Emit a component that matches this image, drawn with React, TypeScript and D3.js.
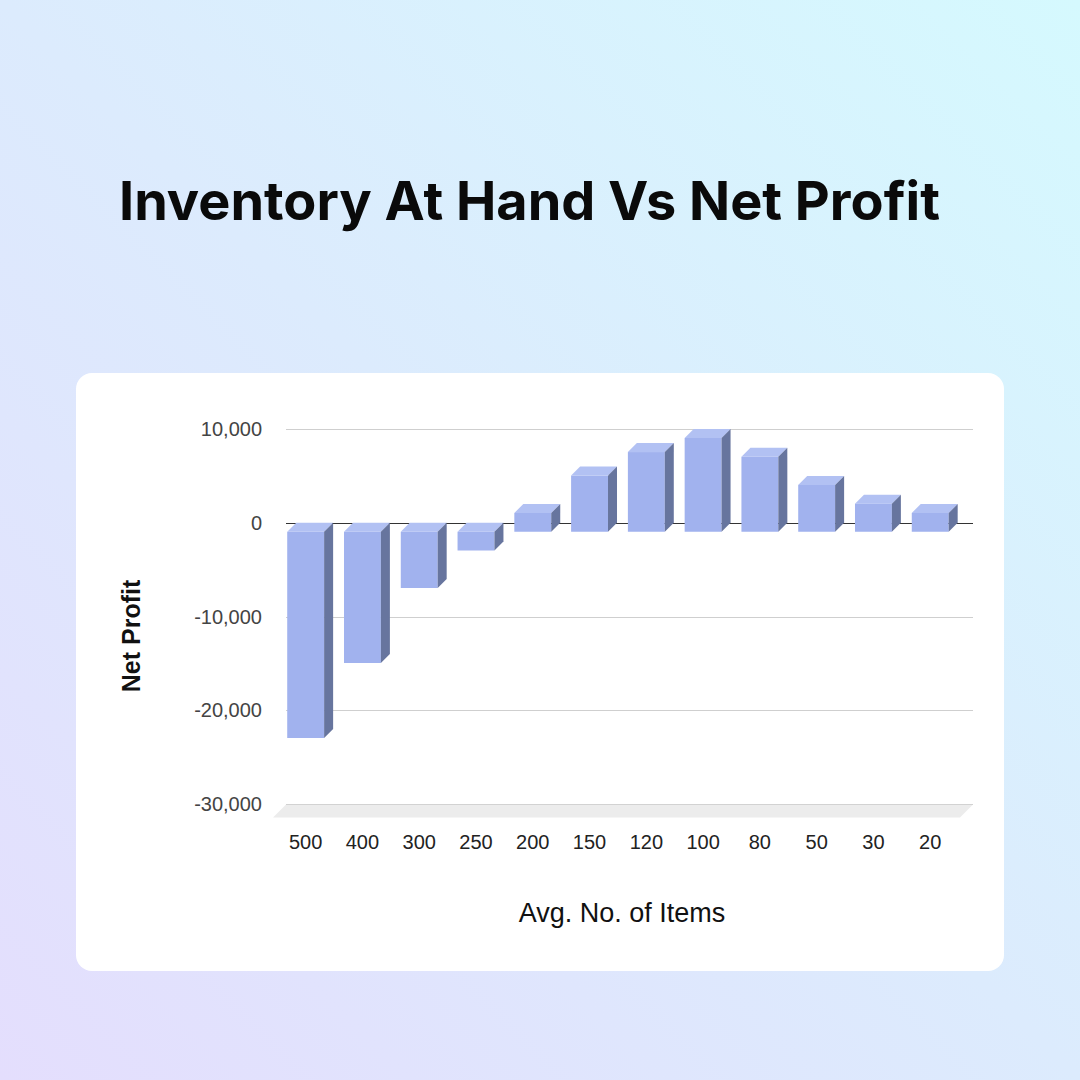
import { useEffect, useRef } from "react"
import * as d3 from "d3"

// dados
const categories = ["500", "400", "300", "250", "200", "150", "120", "100", "80", "50", "30", "20"]
const netProfit = [-22000, -14000, -6000, -2000, 2000, 6000, 8500, 10000, 8000, 5000, 3000, 2000]
const yTicks = [10000, 0, -10000, -20000, -30000]

const W = 1080
const H = 1080

export default function App() {
  const svgRef = useRef<SVGSVGElement>(null)

  useEffect(() => {
    if (!svgRef.current) return
    document.body.style.margin = "0"

    const root = d3.select(svgRef.current)
    root.selectAll("*").remove()
    root.attr("width", W).attr("height", H)

    // fundo em gradiente
    const defs = root.append("defs")
    const grad = defs
      .append("linearGradient")
      .attr("id", "bg")
      .attr("x1", "0%")
      .attr("y1", "100%")
      .attr("x2", "100%")
      .attr("y2", "0%")
    grad.append("stop").attr("offset", "0%").attr("stop-color", "#e4defd")
    grad.append("stop").attr("offset", "50%").attr("stop-color", "#dcebfd")
    grad.append("stop").attr("offset", "100%").attr("stop-color", "#d5f9fe")
    root.append("rect").attr("width", W).attr("height", H).attr("fill", "url(#bg)")

    // título
    root
      .append("text")
      .attr("x", 119)
      .attr("y", 220)
      .attr("font-family", "Inter, 'Noto Sans', sans-serif")
      .attr("font-weight", 700)
      .attr("font-size", 54)
      .attr("fill", "#0a0a0a")
      .text("Inventory At Hand Vs Net Profit")

    // cartão branco
    root
      .append("rect")
      .attr("x", 76)
      .attr("y", 373)
      .attr("width", 928)
      .attr("height", 598)
      .attr("rx", 16)
      .attr("fill", "#ffffff")

    // plano do fundo (parede de trás) e profundidade 3D
    const left = 286
    const right = 973
    const depth = 9
    const floorDepth = 13

    const y = d3.scaleLinear().domain([-30000, 10000]).range([804, 429])
    const x = d3
      .scaleBand()
      .domain(categories)
      .range([left - depth, right - depth])
      .paddingInner(0.35)
      .paddingOuter(0.225)
      .align(0.4)

    const g = root.append("g")
    const font = "'Liberation Sans', Arial, sans-serif"
    const fmt = (v: number) => d3.format(",")(v).replace("\u2212", "-")

    // linhas de grade
    g.selectAll(".grid")
      .data(yTicks.filter((t) => t !== 0))
      .enter()
      .append("line")
      .attr("x1", left)
      .attr("x2", right)
      .attr("y1", (d) => Math.round(y(d)) + 0.5)
      .attr("y2", (d) => Math.round(y(d)) + 0.5)
      .attr("stroke", "#cfcfcf")
      .attr("stroke-width", 1)

    // piso
    const yFloor = Math.round(y(-30000)) + 0.5
    g.append("polygon")
      .attr(
        "points",
        [
          [left, yFloor],
          [right, yFloor],
          [right - floorDepth, yFloor + floorDepth],
          [left - floorDepth, yFloor + floorDepth],
        ]
          .map((p) => p.join(","))
          .join(" "),
      )
      .attr("fill", "#ececec")
    g.append("line")
      .attr("x1", left)
      .attr("x2", right)
      .attr("y1", yFloor)
      .attr("y2", yFloor)
      .attr("stroke", "#d2d2d2")

    // linha do zero
    g.append("line")
      .attr("x1", left)
      .attr("x2", right)
      .attr("y1", Math.round(y(0)) + 0.5)
      .attr("y2", Math.round(y(0)) + 0.5)
      .attr("stroke", "#333333")
      .attr("stroke-width", 1.2)

    // rótulos do eixo Y
    g.selectAll(".ylab")
      .data(yTicks)
      .enter()
      .append("text")
      .attr("x", 262)
      .attr("y", (d) => y(d))
      .attr("dy", "0.36em")
      .attr("text-anchor", "end")
      .attr("font-family", font)
      .attr("font-size", 20)
      .attr("fill", "#444444")
      .text((d) => fmt(d))

    // barras 3D
    const bw = x.bandwidth()
    const bars = g
      .selectAll(".bar")
      .data(categories.map((c, i) => ({ c, v: netProfit[i] })))
      .enter()
      .append("g")

    const pts = (arr: number[][]) => arr.map((p) => p.join(",")).join(" ")

    bars.each(function (d) {
      const sel = d3.select(this)
      const x0 = x(d.c) || 0
      const yTop = y(Math.max(d.v, 0)) + depth
      const yBot = y(Math.min(d.v, 0)) + depth
      // frente
      sel
        .append("rect")
        .attr("x", x0)
        .attr("y", yTop)
        .attr("width", bw)
        .attr("height", yBot - yTop)
        .attr("fill", "#a1b2ee")
      // topo
      sel
        .append("polygon")
        .attr(
          "points",
          pts([
            [x0, yTop],
            [x0 + depth, yTop - depth],
            [x0 + bw + depth, yTop - depth],
            [x0 + bw, yTop],
          ]),
        )
        .attr("fill", "#b2c1f3")
      // lateral
      sel
        .append("polygon")
        .attr(
          "points",
          pts([
            [x0 + bw, yTop],
            [x0 + bw + depth, yTop - depth],
            [x0 + bw + depth, yBot - depth],
            [x0 + bw, yBot],
          ]),
        )
        .attr("fill", "#67759e")
    })

    // rótulos do eixo X
    g.selectAll(".xlab")
      .data(categories)
      .enter()
      .append("text")
      .attr("x", (d) => (x(d) || 0) + bw / 2)
      .attr("y", 842)
      .attr("dy", "0.36em")
      .attr("text-anchor", "middle")
      .attr("font-family", font)
      .attr("font-size", 20)
      .attr("fill", "#222222")
      .text((d) => d)

    // títulos dos eixos
    g.append("text")
      .attr("transform", "translate(131,636) rotate(-90)")
      .attr("dy", "0.36em")
      .attr("text-anchor", "middle")
      .attr("font-family", font)
      .attr("font-weight", 700)
      .attr("font-size", 25)
      .attr("fill", "#111111")
      .text("Net Profit")

    g.append("text")
      .attr("x", 622)
      .attr("y", 912)
      .attr("dy", "0.36em")
      .attr("text-anchor", "middle")
      .attr("font-family", font)
      .attr("font-size", 27)
      .attr("fill", "#111111")
      .text("Avg. No. of Items")
  }, [])

  return (
    <div style={{ position: "absolute", left: 0, top: 0, width: W, height: H }}>
      <svg ref={svgRef} style={{ display: "block" }} />
    </div>
  )
}
